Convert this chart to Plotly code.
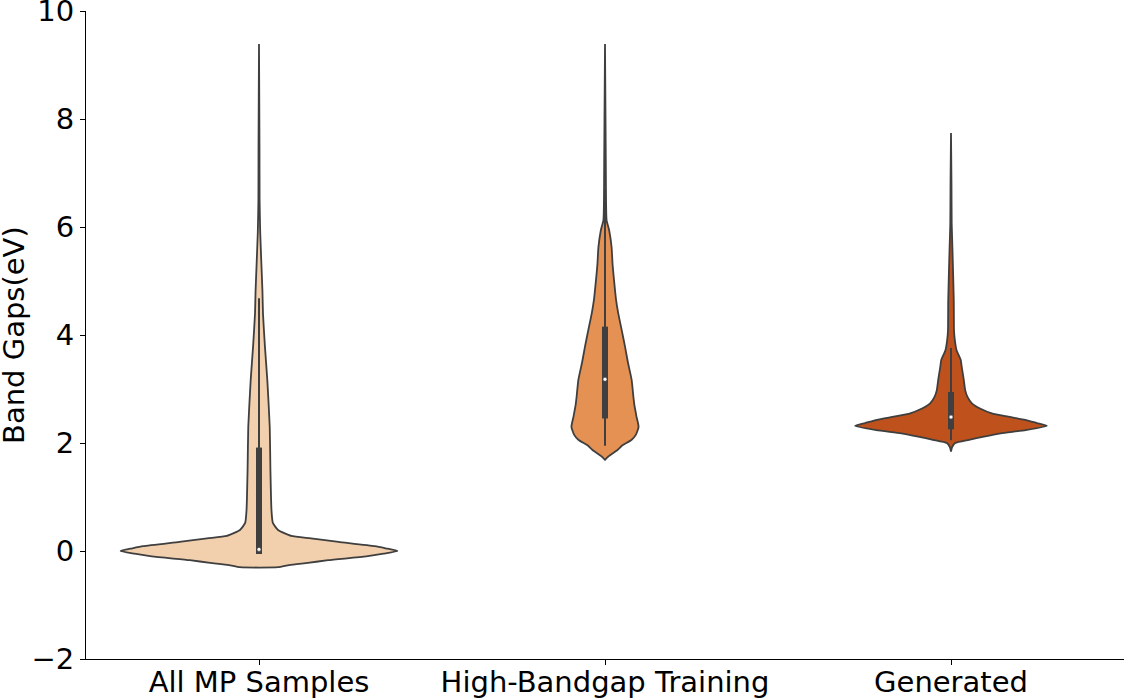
import plotly.graph_objects as go

# ---------------- data ----------------
categories = ["All MP Samples", "High-Bandgap Training", "Generated"]

# violin outline: band-gap levels (eV) and half-widths (category units)
allmp_levels = [-0.30, -0.26, -0.22, -0.17, -0.10, -0.05, 0.00, 0.05, 0.09, 0.17,
                0.235, 0.28, 0.39, 0.52, 0.76, 1.50, 2.30, 3.17, 3.80, 4.40,
                4.80, 5.30, 5.90, 6.50, 7.50, 9.39]
allmp_halfw = [0.055, 0.087, 0.141, 0.200, 0.310, 0.360, 0.400, 0.366, 0.335, 0.230,
               0.150, 0.093, 0.055, 0.040, 0.036, 0.033, 0.031, 0.024, 0.017, 0.0115,
               0.010, 0.007, 0.0035, 0.0017, 0.0014, 0.0]

high_levels = [1.69, 1.75, 1.87, 1.95, 2.06, 2.15, 2.30, 2.49, 2.70, 2.86,
               3.17, 3.50, 3.78, 4.10, 4.41, 4.65, 5.02, 5.30, 5.63, 5.94,
               6.13, 6.50, 7.20, 8.00, 9.39]
high_halfw = [0.0, 0.0095, 0.036, 0.049, 0.077, 0.089, 0.097, 0.091, 0.085, 0.082,
              0.077, 0.066, 0.058, 0.048, 0.038, 0.032, 0.026, 0.022, 0.019, 0.012,
              0.0045, 0.003, 0.0023, 0.0015, 0.0]

gen_levels = [1.84, 1.92, 2.00, 2.06, 2.12, 2.18, 2.24, 2.32, 2.37, 2.43,
              2.49, 2.55, 2.63, 2.73, 2.85, 2.98, 3.17, 3.41, 3.54, 3.72,
              3.91, 4.09, 4.65, 5.57, 6.07, 6.80, 7.74]
gen_halfw = [0.0, 0.003, 0.012, 0.052, 0.095, 0.144, 0.216, 0.277, 0.248, 0.214,
             0.165, 0.118, 0.087, 0.061, 0.048, 0.041, 0.037, 0.031, 0.028, 0.016,
             0.011, 0.0087, 0.008, 0.0043, 0.002, 0.0014, 0.0]

# inner box statistics (eV)
q1_values = [0.00, 2.51, 2.31]
median_values = [0.03, 3.18, 2.48]
q3_values = [1.86, 4.10, 2.89]
whisker_low = [0.00, 1.95, 2.05]
whisker_high = [4.68, 6.70, 3.76]

y_ticks = [-2, 0, 2, 4, 6, 8, 10]

# ---------------- style ----------------
fill_colors = ["#F2D0AD", "#E59154", "#BE511C"]
edge_color = "#3f3f3f"
FONT = "DejaVu Sans"
FSIZE = 29

profiles = [(allmp_levels, allmp_halfw), (high_levels, high_halfw), (gen_levels, gen_halfw)]

fig = go.Figure()

for i, (levels, halfw) in enumerate(profiles):
    xs = [i - w for w in halfw] + [i + w for w in reversed(halfw)]
    ys = list(levels) + list(reversed(levels))
    xs.append(xs[0])
    ys.append(ys[0])
    fig.add_trace(go.Scatter(
        x=xs, y=ys, mode="lines", fill="toself",
        fillcolor=fill_colors[i],
        line=dict(color=edge_color, width=1.8, shape="spline", smoothing=0.5),
        hoverinfo="skip", showlegend=False,
    ))

# y-units per pixel (range 12 over 648 px) for cap extension of the thick box line
cap = 3 * 12 / 648.0
for i in range(3):
    fig.add_trace(go.Scatter(
        x=[i, i], y=[whisker_low[i], whisker_high[i]], mode="lines",
        line=dict(color=edge_color, width=2), hoverinfo="skip", showlegend=False,
    ))
    fig.add_trace(go.Scatter(
        x=[i, i], y=[q1_values[i] - cap, q3_values[i] + cap], mode="lines",
        line=dict(color=edge_color, width=6), hoverinfo="skip", showlegend=False,
    ))
    fig.add_trace(go.Scatter(
        x=[i], y=[median_values[i]], mode="markers",
        marker=dict(color="white", size=4, line=dict(color=edge_color, width=0.6)),
        hoverinfo="skip", showlegend=False,
    ))

fig.update_layout(
    template="none",
    width=1125, height=698,
    margin=dict(l=86, r=1, t=11, b=39, autoexpand=False),
    paper_bgcolor="white", plot_bgcolor="white",
    font=dict(family=FONT, size=FSIZE, color="black"),
    showlegend=False,
    xaxis=dict(
        range=[-0.5, 2.5], tickmode="array", tickvals=[0, 1, 2], ticktext=categories,
        showline=True, linecolor="black", linewidth=1.1, mirror=False,
        ticks="outside", ticklen=5, tickwidth=1.1, tickcolor="black",
        showgrid=False, zeroline=False, fixedrange=True, automargin=False,
        ticklabeloverflow="allow", ticklabelstandoff=-8,
        tickfont=dict(family=FONT, size=FSIZE, color="black"),
    ),
    yaxis=dict(
        range=[-2, 10.001], tickmode="array", tickvals=y_ticks,
        showline=True, linecolor="black", linewidth=1.1, mirror=False,
        ticks="outside", ticklen=5, tickwidth=1.1, tickcolor="black",
        showgrid=False, zeroline=False, fixedrange=True, automargin=False,
        ticklabeloverflow="allow",
        tickfont=dict(family=FONT, size=FSIZE, color="black"),
    ),
    annotations=[dict(
        text="Band Gaps(eV)", xref="paper", yref="paper", x=0, y=0.5,
        xanchor="center", yanchor="middle", xshift=-72, textangle=-90,
        showarrow=False, font=dict(family=FONT, size=FSIZE, color="black"),
    )],
)

fig.write_html("out.html")
